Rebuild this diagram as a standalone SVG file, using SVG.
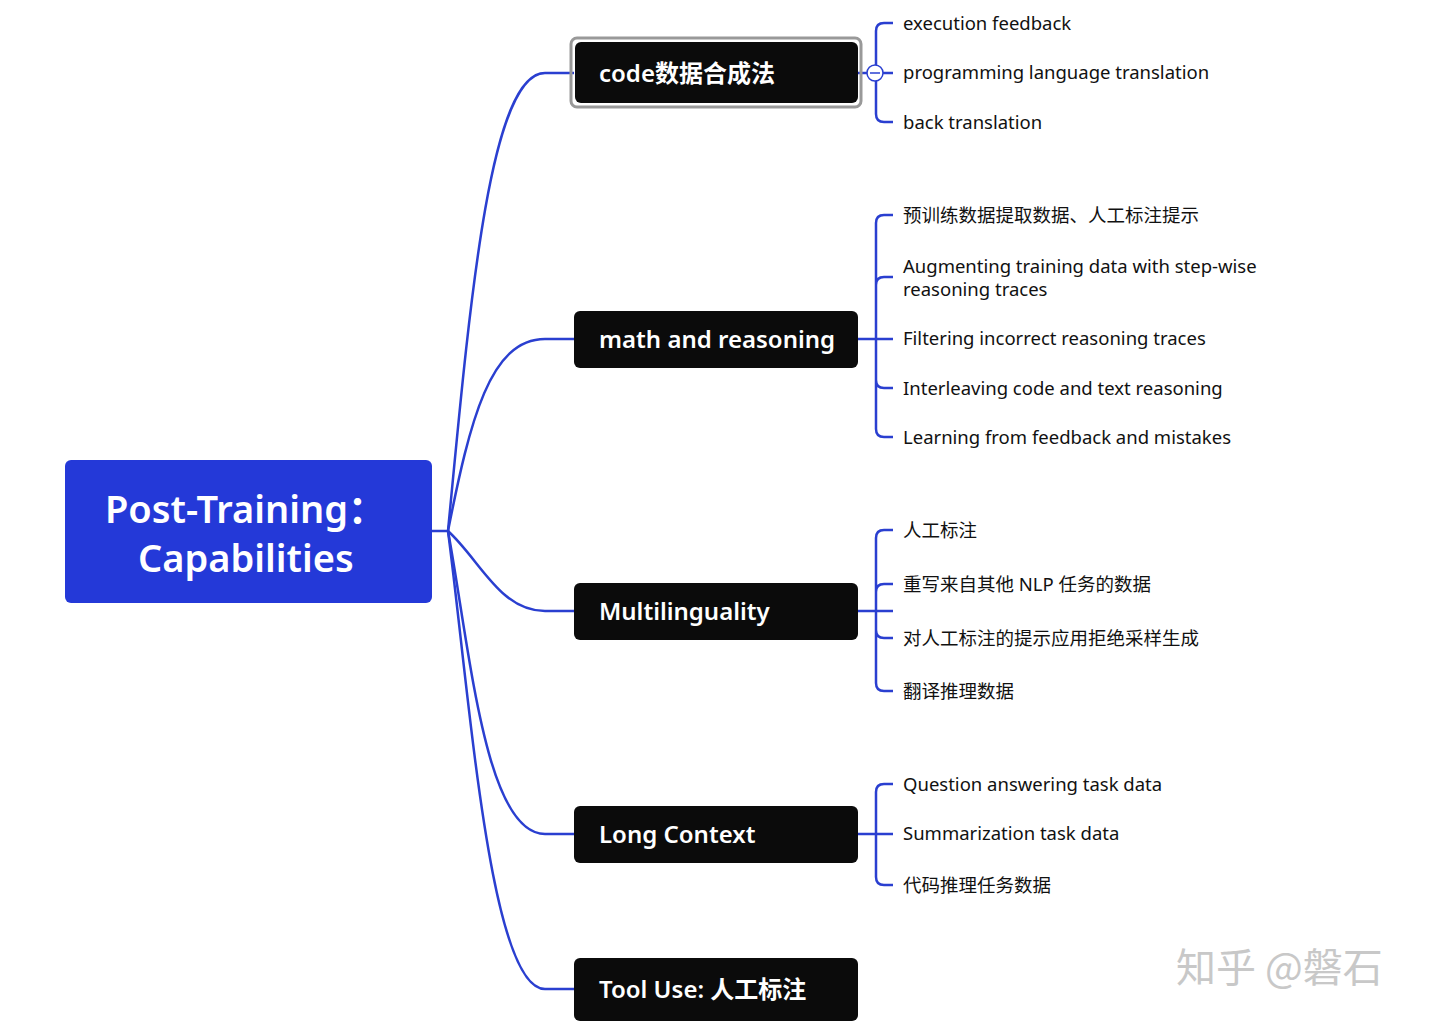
<svg xmlns="http://www.w3.org/2000/svg" width="1440" height="1025" viewBox="0 0 1440 1025">
<style>
.c{fill:none;stroke:#2a3fd0;stroke-width:2.5}
.n{fill:#0b0b0b}
.nt{fill:#fff;font-family:"Noto Sans","Noto Sans CJK SC",sans-serif;font-size:24px;font-weight:600}
.lt{fill:#111;font-family:"Noto Sans","Noto Sans CJK SC",sans-serif;font-size:18.5px}
</style>
<rect width="1440" height="1025" fill="#fff"/>
<g id="connectors">
<path class="c" d="M432 531H448C470 300 490 73 545 73H574"/>
<path class="c" d="M448 531C470 420 490 339 545 339H574"/>
<path class="c" d="M448 531C480 560 500 611 545 611H574"/>
<path class="c" d="M448 531C470 650 485 834 545 834H574"/>
<path class="c" d="M448 531C470 700 490 989 545 989H574"/>
<path class="c" d="M858 73H893M876 31V114M876 31Q876 23 884 23H893M876 114Q876 122 884 122H893"/>
<path class="c" d="M858 339H893M876 223V429M876 223Q876 215 884 215H893M876 285Q876 277 884 277H893M876 380Q876 388 884 388H893M876 429Q876 437 884 437H893"/>
<path class="c" d="M858 611H893M876 538V683M876 538Q876 530 884 530H893M876 592Q876 584 884 584H893M876 630Q876 638 884 638H893M876 683Q876 691 884 691H893"/>
<path class="c" d="M858 834H893M876 792V877M876 792Q876 784 884 784H893M876 877Q876 885 884 885H893"/>
<circle cx="875" cy="73" r="8" fill="#fff" stroke="#2a3fd0" stroke-width="1.5"/>
<path d="M870 73H880" stroke="#2a3fd0" stroke-width="1.5"/>
</g>
<g id="root">
<rect x="65" y="460" width="367" height="143" rx="6" fill="#2439d8"/>
<text x="105" y="523" fill="#fff" font-family="'Noto Sans','Noto Sans CJK SC',sans-serif" font-size="38" font-weight="600">Post-Training：</text>
<text x="138" y="572" fill="#fff" font-family="'Noto Sans','Noto Sans CJK SC',sans-serif" font-size="38" font-weight="600">Capabilities</text>
</g>
<g id="code">
<rect x="571" y="38" width="290" height="69" rx="6" fill="none" stroke="#999" stroke-width="3"/>
<rect class="n" x="575" y="42" width="283" height="61" rx="6"/>
<text class="nt" x="599" y="82">code数据合成法</text>
</g>
<g id="math"><rect class="n" x="574" y="311" width="284" height="57" rx="6"/><text class="nt" x="599" y="348">math and reasoning</text></g>
<g id="multi"><rect class="n" x="574" y="583" width="284" height="57" rx="6"/><text class="nt" x="599" y="620">Multilinguality</text></g>
<g id="long"><rect class="n" x="574" y="806" width="284" height="57" rx="6"/><text class="nt" x="599" y="843">Long Context</text></g>
<g id="tool"><rect class="n" x="574" y="958" width="284" height="63" rx="6"/><text class="nt" x="599" y="998">Tool Use: 人工标注</text></g>
<g id="leaves">
<text class="lt" x="903" y="30">execution feedback</text>
<text class="lt" x="903" y="79">programming language translation</text>
<text class="lt" x="903" y="129">back translation</text>
<text class="lt" x="903" y="222">预训练数据提取数据、人工标注提示</text>
<text class="lt" x="903" y="273">Augmenting training data with step-wise</text>
<text class="lt" x="903" y="296">reasoning traces</text>
<text class="lt" x="903" y="345">Filtering incorrect reasoning traces</text>
<text class="lt" x="903" y="395">Interleaving code and text reasoning</text>
<text class="lt" x="903" y="444">Learning from feedback and mistakes</text>
<text class="lt" x="903" y="537">人工标注</text>
<text class="lt" x="903" y="591">重写来自其他 NLP 任务的数据</text>
<text class="lt" x="903" y="645">对人工标注的提示应用拒绝采样生成</text>
<text class="lt" x="903" y="698">翻译推理数据</text>
<text class="lt" x="903" y="791">Question answering task data</text>
<text class="lt" x="903" y="840">Summarization task data</text>
<text class="lt" x="903" y="892">代码推理任务数据</text>
</g>
<text x="1176" y="982" fill="#c8c8c8" font-family="'Noto Sans CJK SC',sans-serif" font-size="40">知乎 @磐石</text>
</svg>
